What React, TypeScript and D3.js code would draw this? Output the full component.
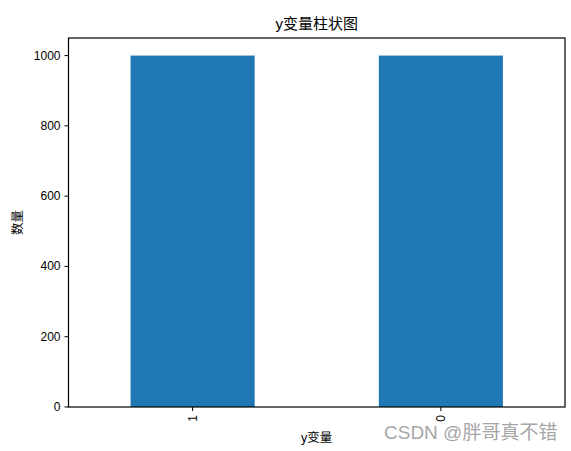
import { useEffect, useRef } from 'react';
import * as d3 from 'd3';

const categories = ['1', '0'];
const counts = [1000, 1000];
const yTicks = [0, 200, 400, 600, 800, 1000];

const W = 571;
const H = 451;
const margin = { top: 38, right: 6, bottom: 44, left: 68.5 };
const FONT = '"Liberation Sans", "Noto Sans CJK SC", sans-serif';

export default function App() {
    const svgRef = useRef<SVGSVGElement>(null);

    useEffect(() => {
        if (!svgRef.current) return;
        const svg = d3.select(svgRef.current);
        svg.selectAll('*').remove();

        const x0 = margin.left;
        const x1 = W - margin.right;
        const y0 = H - margin.bottom;
        const y1 = margin.top;

        // pandas bar: positions 0..n-1, xlim -0.5..n-0.5, width 0.5
        const x = d3.scaleLinear().domain([-0.5, categories.length - 0.5]).range([x0, x1]);
        const y = d3.scaleLinear().domain([0, 1050]).range([y0, y1]);

        svg.append('g')
            .selectAll('rect')
            .data(counts)
            .enter()
            .append('rect')
            .attr('x', (_, i) => x(i - 0.25))
            .attr('width', x(0.25) - x(-0.25))
            .attr('y', d => y(d))
            .attr('height', d => y(0) - y(d))
            .attr('fill', '#1f77b4');

        // frame
        svg.append('rect')
            .attr('x', x0).attr('y', y1)
            .attr('width', x1 - x0).attr('height', y0 - y1)
            .attr('fill', 'none').attr('stroke', '#000').attr('stroke-width', 1.2);

        // y ticks
        const yg = svg.append('g');
        yTicks.forEach(t => {
            yg.append('line')
                .attr('x1', x0 - 4).attr('x2', x0)
                .attr('y1', y(t)).attr('y2', y(t))
                .attr('stroke', '#000').attr('stroke-width', 1);
            yg.append('text')
                .attr('x', x0 - 8).attr('y', y(t))
                .attr('text-anchor', 'end').attr('dominant-baseline', 'central')
                .attr('font-size', 12).attr('font-family', FONT)
                .text(t);
        });

        // x ticks
        const xg = svg.append('g');
        categories.forEach((c, i) => {
            xg.append('line')
                .attr('x1', x(i)).attr('x2', x(i))
                .attr('y1', y0).attr('y2', y0 + 4)
                .attr('stroke', '#000').attr('stroke-width', 1);
            xg.append('text')
                .attr('transform', `translate(${x(i)},${y0 + 8}) rotate(-90)`)
                .attr('text-anchor', 'end').attr('dominant-baseline', 'central')
                .attr('font-size', 12).attr('font-family', FONT)
                .text(c);
        });

        svg.append('text')
            .attr('x', (x0 + x1) / 2).attr('y', 29)
            .attr('text-anchor', 'middle')
            .attr('font-size', 15).attr('font-family', FONT)
            .text('y变量柱状图');

        svg.append('text')
            .attr('x', (x0 + x1) / 2).attr('y', 442)
            .attr('text-anchor', 'middle')
            .attr('font-size', 12.5).attr('font-family', FONT)
            .text('y变量');

        svg.append('text')
            .attr('transform', `translate(22,${(y0 + y1) / 2}) rotate(-90)`)
            .attr('text-anchor', 'middle')
            .attr('font-size', 12.5).attr('font-family', FONT)
            .text('数量');

        svg.append('text')
            .attr('x', 384).attr('y', 439)
            .attr('font-size', 19).attr('font-family', FONT)
            .attr('fill', '#a6a6a6')
            .text('CSDN @胖哥真不错');
    }, []);

    return (
        <svg
            ref={svgRef}
            width={W}
            height={H}
            viewBox={`0 0 ${W} ${H}`}
            style={{ position: 'absolute', left: 0, top: 0, background: '#fff' }}
        />
    );
}
